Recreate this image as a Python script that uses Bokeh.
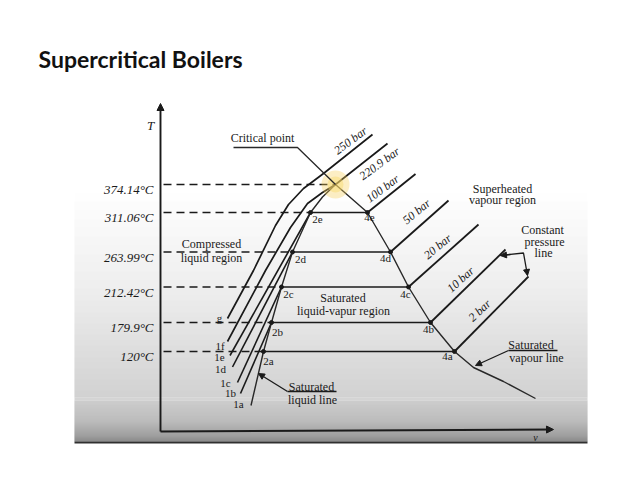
import numpy as np
from bokeh.plotting import figure
from bokeh.models import Range1d, Arrow, NormalHead
from bokeh.core.properties import value
from bokeh.embed import file_html
from bokeh.resources import INLINE

# ---------------- data (schematic T-v diagram, diagram units) ----------------
title = "Supercritical Boilers"
temps = [120, 179.9, 212.42, 263.99, 311.06, 374.14]
temp_labels = ["120°C", "179.9°C", "212.42°C", "263.99°C", "311.06°C", "374.14°C"]
T_pos = [80, 109, 144.5, 179.5, 219, 247]          # schematic height of each temperature level

pressures = ["2 bar", "10 bar", "20 bar", "50 bar", "100 bar", "220.9 bar", "250 bar"]
v_f = [103, 111, 121, 132, 150]                    # saturated liquid (2a..2e)
v_g = [294, 270, 248, 230, 207]                    # saturated vapour (4a..4e)
v_crit, T_crit = 175, 247
labels_2 = ["2a", "2b", "2c", "2d", "2e"]
labels_4 = ["4a", "4b", "4c", "4d", "4e"]
labels_1 = ["1a", "1b", "1c", "1d", "1e", "1f", "g"]

# compressed-liquid start points 1b..1e
cl_v = [80, 77, 72, 69.5]
cl_T = [38, 49, 64.5, 76]
# superheated end points for 2..100 bar
sh_v = [368, 345, 318, 288, 255]
sh_T = [155, 182, 207, 231, 257.5]
# 220.9 bar (critical) isobar and 250 bar (supercritical) isobar
p2209_v = [67, 105, 130, 147, 162, 175, 227]
p2209_T = [90, 161, 204, 228, 239, 247, 288]
p250_v = [67, 93, 115, 128, 143, 163, 212]
p250_T = [113, 161, 206, 227, 243, 258, 297]
# saturation curves
satliq_v = [90.5, 103, 111, 121, 132, 150, 162, 175]
satliq_T = [26, 80, 109, 144.5, 179.5, 219, 234.5, 247]
satvap_v = [175, 207, 230, 248, 270, 294, 313, 343, 375]
satvap_T = [247, 219, 179.5, 144.5, 109, 80, 64, 50, 33]

# label anchors
lab2_v = [108, 117, 128, 140, 157]; lab2_T = [71, 100, 138, 173, 212]
lab4_v = [287, 268, 245, 225, 209]; lab4_T = [76, 103, 138, 174, 214]
lab1_v = [78, 70, 65, 60, 59, 59.5, 59]; lab1_T = [27.5, 39, 49, 62.5, 74, 86, 114]
plab_v = [319, 300, 277, 256, 222, 219, 190]
plab_T = [121, 152, 185, 220, 243, 268, 291]

C = "#1a1a1a"
SERIF = value("Liberation Serif")

p = figure(width=624, height=464, x_range=Range1d(-160, 464), y_range=Range1d(-33, 431),
           output_backend="svg", toolbar_location=None, min_border=0,
           x_axis_location=None, y_axis_location=None)
p.grid.visible = False
p.outline_line_color = None
p.background_fill_color = "white"
p.border_fill_color = "white"

# ---------------- photo background (gradient) ----------------
def grey(g):
    g = int(round(g))
    return "#%02x%02x%02x" % (g, g, g)

stops_up = [(190, 255), (290, 232), (397, 194)]
stops_lo = [(400, 188), (420, 166), (435, 126), (441, 100)]
L, R = -86, 427
tops, bots, cols = [], [], []
for stops in (stops_up, stops_lo):
    ys = np.arange(stops[0][0], stops[-1][0], 1.0)
    gs = np.interp(ys, [s[0] for s in stops], [s[1] for s in stops])
    for yy, gg in zip(ys, gs):
        tops.append(431 - yy); bots.append(431 - yy - 1.05); cols.append(grey(gg))
tops += [431 - 397, 431 - 441]; bots += [431 - 400, 431 - 443]; cols += ["#d4d4d4", "#303030"]
p.quad(left=L, right=R, top=tops, bottom=bots, fill_color=cols, line_color=None)

# ---------------- lines ----------------
dash_xs = [[3, x] for x in v_f + [v_crit]]
dash_ys = [[t, t] for t in T_pos]
p.multi_line(dash_xs, dash_ys, line_color=C, line_width=1.4, line_dash="8 5")

p.multi_line([[a, b] for a, b in zip(v_f, v_g)], [[t, t] for t in T_pos[:5]],
             line_color=C, line_width=1.7)
p.multi_line([[a, b] for a, b in zip(cl_v, v_f[1:])], [[a, b] for a, b in zip(cl_T, T_pos[1:5])],
             line_color=C, line_width=1.6)
p.multi_line([[a, b] for a, b in zip(v_g, sh_v)], [[a, b] for a, b in zip(T_pos[:5], sh_T)],
             line_color=C, line_width=1.8)
p.line(p2209_v, p2209_T, line_color=C, line_width=1.7)
p.line(p250_v, p250_T, line_color=C, line_width=1.7)
p.line(satliq_v, satliq_T, line_color="#282828", line_width=1.4)
p.line(satvap_v, satvap_T, line_color="#282828", line_width=1.4)

# critical point glow
p.scatter([v_crit], [T_crit], size=28, fill_color="#f6cf55", fill_alpha=0.35, line_color=None)
p.scatter([v_crit], [T_crit], size=16, fill_color="#f8d96a", fill_alpha=0.45, line_color=None)

# state points
p.scatter(v_f + v_g, T_pos[:5] * 2, size=4, fill_color=C, line_color=C)

# leader lines
p.line([73, 137, v_crit], [284, 284, T_crit], line_color="#282828", line_width=1.3)
p.line([127, 176], [40, 40], line_color=C, line_width=1.3)
p.line([348, 397], [81, 81], line_color=C, line_width=1.3)
p.line([340, 363, 367], [176, 178.5, 156], line_color=C, line_width=1.3)
for xs, ys, xe, ye in [(127, 40, 98, 58), (348, 81, 315, 66), (350, 177, 340, 176), (366, 162, 367, 156)]:
    p.add_layout(Arrow(end=NormalHead(size=6, fill_color=C, line_color=C, line_width=1),
                       x_start=xs, y_start=ys, x_end=xe, y_end=ye,
                       line_color=C, line_width=1.3))

# axes
p.add_layout(Arrow(end=NormalHead(size=7, fill_color=C, line_color=C), x_start=0, y_start=0,
                   x_end=0, y_end=328, line_color=C, line_width=1.9))
p.add_layout(Arrow(end=NormalHead(size=7, fill_color=C, line_color=C), x_start=0, y_start=0,
                   x_end=393, y_end=2, line_color=C, line_width=1.9))

# ---------------- texts ----------------
p.text(x=[-122], y=[373], text=[title], text_font=value("Lato"), text_font_style="bold",
       text_font_size="23px", text_baseline="alphabetic", text_color="#111111")

p.text(x=[-7] * 6, y=[t - 5 for t in T_pos], text=temp_labels, text_font=SERIF,
       text_font_style="italic", text_font_size="13px", text_align="right",
       text_baseline="middle", text_color=C)
p.text(x=[-10], y=[306], text=["T"], text_font=SERIF, text_font_style="italic",
       text_font_size="13px", text_align="center", text_baseline="middle", text_color=C)
p.text(x=[375], y=[-6], text=["v"], text_font=SERIF, text_font_style="italic",
       text_font_size="10px", text_align="center", text_baseline="middle", text_color=C)

p.text(x=lab2_v + lab4_v + lab1_v, y=lab2_T + lab4_T + lab1_T, text=labels_2 + labels_4 + labels_1,
       text_font=SERIF, text_font_size="11px", text_align="center", text_baseline="middle",
       text_color=C)

seg_start = list(zip(v_g, T_pos[:5])) + [(v_crit, T_crit), (p250_v[-2], p250_T[-2])]
seg_end = list(zip(sh_v, sh_T)) + [(p2209_v[-1], p2209_T[-1]), (p250_v[-1], p250_T[-1])]
angles = [np.degrees(np.arctan2(e[1] - s[1], e[0] - s[0])) - 2 for s, e in zip(seg_start, seg_end)]
for x, y, t, a in zip(plab_v, plab_T, pressures, angles):
    p.text(x=[x], y=[y], text=[t], angle=a, angle_units="deg", text_font=SERIF,
           text_font_style="italic", text_font_size="12px", text_align="center",
           text_baseline="middle", text_color=C)

region_x = [102, 51, 51, 342, 342, 382, 384, 383, 182.5, 183, 151, 152, 370.5, 376]
region_y = [294, 188, 174, 243, 232, 202, 189.5, 178.5, 134, 121, 45, 31.5, 87, 73.5]
region_t = ["Critical point", "Compressed", "liquid region", "Superheated", "vapour region",
            "Constant", "pressure", "line", "Saturated", "liquid-vapur region",
            "Saturated", "liquid line", "Saturated", "vapour line"]
p.text(x=region_x, y=region_y, text=region_t, text_font=SERIF, text_font_size="12px",
       text_align="center", text_baseline="middle", text_color=C)

open("out.html", "w").write(file_html(p, INLINE))
